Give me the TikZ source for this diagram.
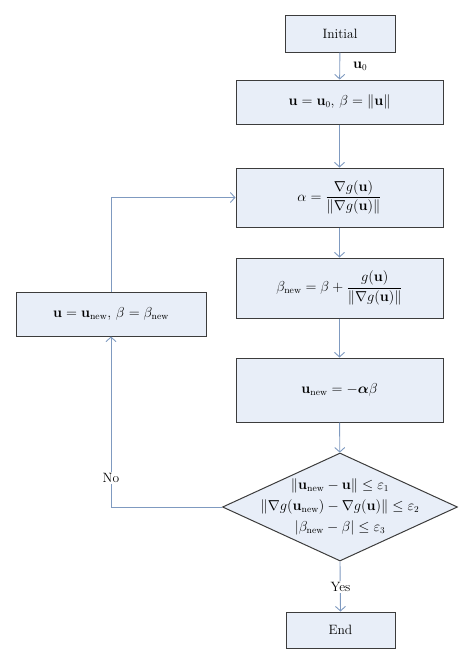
\documentclass[tikz,border=0pt]{standalone}
\usepackage{amsmath,bm}
\usetikzlibrary{arrows.meta,shapes.geometric}
\definecolor{boxfill}{HTML}{E8EEF8}
\definecolor{boxline}{HTML}{3C3C3C}
\definecolor{arrcol}{HTML}{7F9AC0}
\tikzset{
  blk/.style={draw=boxline, line width=1pt, fill=boxfill, inner sep=0pt, font=\fontsize{13.5}{16}\selectfont},
  arr/.style={draw=arrcol, line width=0.9pt, -{Straight Barb[length=4.5pt,width=10pt]}},
  lbl/.style={font=\fontsize{13.5}{16}\selectfont, inner sep=1pt},
}
\begin{document}
\begin{tikzpicture}[x=1pt,y=-1pt]
\useasboundingbox (0,0) rectangle (474,665);
\node[blk, minimum width=110pt, minimum height=37pt] (init) at (340,33.5) {Initial};
\node[blk, minimum width=207pt, minimum height=44pt] (b1) at (339.5,102) {$\mathbf{u}=\mathbf{u}_0,\,\beta=\|\mathbf{u}\|$};
\node[blk, minimum width=207pt, minimum height=59pt] (b2) at (339.5,197.5) {$\alpha=\dfrac{\nabla g(\mathbf{u})}{\|\nabla g(\mathbf{u})\|}$};
\node[blk, minimum width=207pt, minimum height=60pt] (b3) at (339.5,288) {$\beta_{\text{new}}=\beta+\dfrac{g(\mathbf{u})}{\|\nabla g(\mathbf{u})\|}$};
\node[blk, minimum width=207pt, minimum height=64pt] (b4) at (339.5,390) {$\mathbf{u}_{\text{new}}=-\bm{\alpha}\beta$};
\node[blk, minimum width=190pt, minimum height=44pt] (left) at (111,314) {$\mathbf{u}=\mathbf{u}_{\text{new}},\,\beta=\beta_{\text{new}}$};
\node[blk, shape=diamond, minimum width=235pt, minimum height=108pt] (dia) at (340,507) {};
\node[lbl, align=center, font=\fontsize{13.5}{21}\selectfont] (diatext) at (dia.center) {$\|\mathbf{u}_{\text{new}}-\mathbf{u}\|\le\varepsilon_1$\\ $\|\nabla g(\mathbf{u}_{\text{new}})-\nabla g(\mathbf{u})\|\le\varepsilon_2$\\ $|\beta_{\text{new}}-\beta|\le\varepsilon_3$};
\node[blk, minimum width=109pt, minimum height=36pt] (end) at (340.5,630) {End};

\draw[arr] (init) -- (b1) node[lbl, midway, right=12pt] (u0) {$\mathbf{u}_0$};
\draw[arr] (b1) -- (b2);
\draw[arr] (b2) -- (b3);
\draw[arr] (b3) -- (b4);
\draw[arr] (b4) -- (dia);
\draw[arr] (left.north) |- (b2.west);
\draw[arr] (dia.west) -| (left.south);
\node[lbl, fill=white] (no) at (111,478) {No};
\draw[arr] (dia.south) -- (end.north);
\node[lbl, fill=white] (yes) at (340.5,587) {Yes};
\end{tikzpicture}
\end{document}
